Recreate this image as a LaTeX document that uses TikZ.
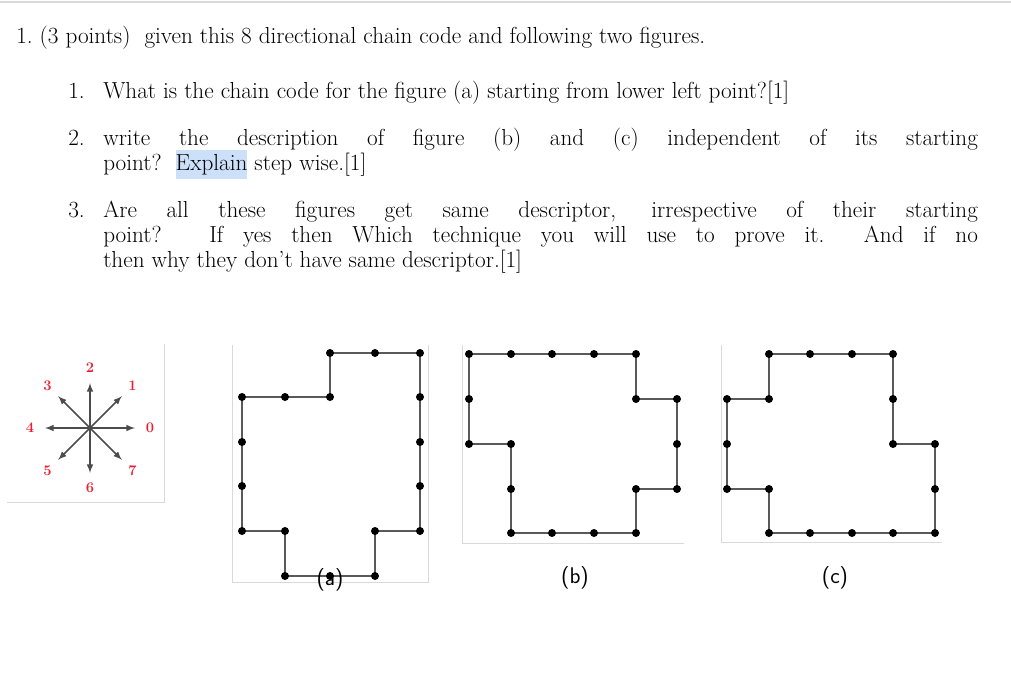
\documentclass[tikz,border=0pt]{standalone}
\usepackage{xcolor}
\usetikzlibrary{calc}
\definecolor{hl}{RGB}{204,224,250}
\definecolor{codered}{RGB}{235,30,50}
\begin{document}
\begin{tikzpicture}[x=0.75pt,y=-0.75pt,
  txt/.style={anchor=base west,inner sep=0pt,font=\fontsize{17.4}{20}\selectfont},
  frame/.style={draw=black!15,line width=0.6pt},
  pth/.style={draw=black!65,line width=1pt},
  dot/.style={circle,fill=black,inner sep=0pt,minimum size=6pt},
  dirarr/.style={draw=black!70,line width=1.2pt,-latex},
  dirlab/.style={text=codered,font=\bfseries\fontsize{11}{11}\selectfont,inner sep=0pt},
  figcap/.style={font=\sffamily\fontsize{17}{17}\selectfont,inner sep=0pt}]
\useasboundingbox (0,0) rectangle (1011,683);
\draw[black!15,line width=0.8pt] (0,2) -- (1011,2);
% text
\node[txt] (l1) at (16,43) {1.\ (3 points)\ \ given this 8 directional chain code and following two figures.};
\node[txt] (n1) at (68,98) {1.};
\node[txt] (t1) at (103,98) {What is the chain code for the figure (a) starting from lower left point?[1]};
\node[txt] (n2) at (68,145) {2.};
\node[txt] (t2) at (103,145) {\makebox[656pt][s]{write the description of figure (b) and (c) independent of its starting}};
\node[txt] (t2b) at (103,170) {point?\ \ \colorbox{hl}{\kern-3pt\vphantom{Ep}Explain\kern-3pt}\ step wise.[1]};
\node[txt] (n3) at (68,217) {3.};
\node[txt] (t3) at (103,217) {\makebox[656pt][s]{Are all these figures get same descriptor, irrespective of their starting}};
\node[txt] (t3b) at (103,242) {\makebox[656pt][s]{point? If yes then Which technique you will use to prove it.\ \ And if no}};
\node[txt] (t3c) at (103,267) {then why they don't have same descriptor.[1]};
% chain code legend
\draw[frame] (7,502) -- (164,502) -- (164,344);
\coordinate (c) at (90,428);
\foreach \a/\l in {0/0,45/1,90/2,135/3,180/4,225/5,270/6,315/7}{
  \draw[dirarr] (c) -- ++({45*cos(\a)},{-45*sin(\a)}) coordinate (e\l);
  \node[dirlab] (lab\l) at ($(c)+({60*cos(\a)},{-60*sin(\a)})$) {\l};
}
% figure (a)
\draw[frame] (232,345) -- (232,582) -- (428,582) -- (428,345);
\draw[pth] (330,353) -- (420,353) -- (420,531) -- (375,531) -- (375,576) -- (285,576) -- (285,531) -- (242,531) -- (242,397) -- (330,397) -- cycle;
\foreach \p in {(330,353),(375,353),(420,353),(420,397),(420,442),(420,486),(420,531),(375,531),(375,576),(330,576),(285,576),(285,531),(242,531),(242,486),(242,442),(242,397),(285,397),(330,397)}
  \node[dot] at \p {};
\node[figcap] (ca) at (330,580) {(a)};
% figure (b)
\draw[frame] (462,345) -- (462,543) -- (684,543);
\draw[pth] (469,354) -- (636,354) -- (636,399) -- (677,399) -- (677,489) -- (636,489) -- (636,533) -- (511,533) -- (511,444) -- (469,444) -- cycle;
\foreach \p in {(469,354),(511,354),(552,354),(594,354),(636,354),(636,399),(677,399),(677,444),(677,489),(636,489),(636,533),(594,533),(552,533),(511,533),(511,489),(511,444),(469,444),(469,399)}
  \node[dot] at \p {};
\node[figcap] (cb) at (575,578) {(b)};
% figure (c)
\draw[frame] (721,345) -- (721,542) -- (942,542);
\draw[pth] (769,354) -- (893,354) -- (893,444) -- (935,444) -- (935,533) -- (769,533) -- (769,489) -- (727,489) -- (727,399) -- (769,399) -- cycle;
\foreach \p in {(769,354),(810,354),(852,354),(893,354),(893,399),(893,444),(935,444),(935,489),(935,533),(893,533),(852,533),(810,533),(769,533),(769,489),(727,489),(727,444),(727,399),(769,399)}
  \node[dot] at \p {};
\node[figcap] (cc) at (835,578) {(c)};
\end{tikzpicture}
\end{document}
